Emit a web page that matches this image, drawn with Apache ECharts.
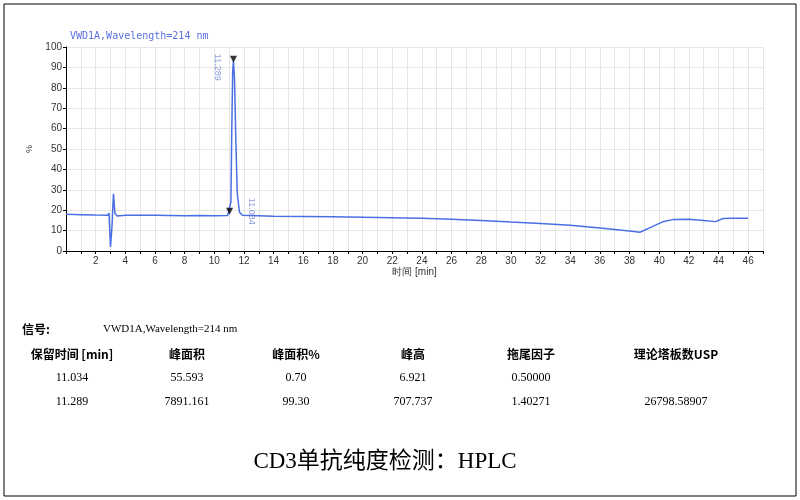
<!DOCTYPE html>
<html><head><meta charset="utf-8">
<script src="https://cdn.jsdelivr.net/npm/echarts@6/dist/echarts.min.js"></script>
<style>body{margin:0;background:#fff}#c{width:800px;height:500px}</style>
</head><body><div id="c"></div>
<script>
// 色谱曲线数据 [时间 min, 信号 %]
const trace = [
  [0, 18.0], [1, 17.8], [2, 17.6], [2.8, 17.5], [2.9, 18.5], [3.0, 2.0], [3.1, 12],
  [3.2, 28.0], [3.3, 18.5], [3.45, 17.2], [4, 17.5], [6, 17.5], [8, 17.3], [9, 17.4],
  [10, 17.3], [10.9, 17.4], [11.03, 17.9], [11.12, 24], [11.18, 60], [11.24, 88], [11.29, 93.0],
  [11.36, 85], [11.45, 55], [11.55, 28], [11.7, 19], [11.9, 17.5], [12, 17.3], [14, 17.0],
  [18, 16.8], [20, 16.6], [24, 16.0], [26, 15.6], [28, 15.0], [30, 14.2], [32, 13.5],
  [34, 12.6], [36, 11.3], [38, 9.8], [38.7, 9.2], [39.5, 11.8], [40.3, 14.5],
  [41, 15.5], [42, 15.6], [43, 15.0], [43.8, 14.4], [44.3, 15.9], [45, 16.0], [46, 16.1]
];
const peakTimes = [11.034, 11.289];
const peakMarks = [19.5, 94];
const peakNames = ['11.034', '11.289'];
const xTicks = [2, 4, 6, 8, 10, 12, 14, 16, 18, 20, 22, 24, 26, 28, 30, 32, 34, 36, 38, 40, 42, 44, 46];
const headers = ['保留时间 [min]', '峰面积', '峰面积%', '峰高', '拖尾因子', '理论塔板数USP'];
const row1 = ['11.034', '55.593', '0.70', '6.921', '0.50000', ''];
const row2 = ['11.289', '7891.161', '99.30', '707.737', '1.40271', '26798.58907'];

const colX = [72, 187, 296, 413, 531, 676];
const graphics = [
  { type: 'rect', shape: { x: 4, y: 4, width: 792, height: 492 }, style: { fill: 'none', stroke: '#000', lineWidth: 1 } },
  { type: 'text', left: 70, top: 31, style: { text: 'VWD1A,Wavelength=214 nm', fill: '#5a6fe0', font: '10px "DejaVu Sans Mono"' } },
  { type: 'text', left: 22, top: 323, style: { text: '信号:', fill: '#000', font: 'bold 12px "Noto Sans CJK SC"' } },
  { type: 'text', left: 103, top: 324, style: { text: 'VWD1A,Wavelength=214 nm', fill: '#000', font: '11px "Liberation Serif"' } },
  { type: 'text', x: 385, y: 462, style: { text: 'CD3单抗纯度检测：HPLC', fill: '#000', font: '23px "Liberation Serif", "Noto Sans CJK SC"', align: 'center', verticalAlign: 'middle' } }
];
[headers, row1, row2].forEach(function (row, r) {
  row.forEach(function (t, i) {
    graphics.push({ type: 'text', x: colX[i], y: 354 + r * 24, style: {
      text: t, fill: '#000', align: 'center', verticalAlign: 'middle',
      font: r === 0 ? 'bold 12px "Noto Sans CJK SC"' : '12px "Liberation Serif"' } });
  });
});

// 峰标记：11.034 的标签在标记上方，11.289 的标签在右下方
const labelOffsets = [[0, -22], [8, 16]];
const peakData = peakTimes.map((t, i) => ({
  value: [t, peakMarks[i]],
  label: { show: true, formatter: peakNames[i], rotate: -90, position: 'inside',
    offset: labelOffsets[i], color: '#6b82d6', fontSize: 9 }
}));

const chart = echarts.init(document.getElementById('c'));
chart.setOption({
  animation: false,
  grid: { left: 66, right: 37, top: 47, bottom: 249 },
  xAxis: {
    type: 'value', min: 0, max: 47, interval: 1,
    name: '时间 [min]', nameLocation: 'middle', nameGap: 14,
    nameTextStyle: { fontSize: 10, color: '#333' },
    axisLine: { lineStyle: { color: '#000' } },
    axisTick: { length: 3, lineStyle: { color: '#000' }, interval: (i, v) => v % 2 === 0 },
    axisLabel: { fontSize: 10, color: '#333', margin: 5, formatter: v => xTicks.includes(v) ? v : '' },
    splitLine: { show: true, lineStyle: { color: '#e6e6e6' }, interval: (i, v) => v % 2 === 0 }
  },
  yAxis: {
    type: 'value', min: 0, max: 100, interval: 10,
    name: '%', nameLocation: 'middle', nameGap: 32, nameRotate: 90,
    nameTextStyle: { fontSize: 9, color: '#333' },
    axisLine: { show: true, lineStyle: { color: '#000' } },
    axisTick: { show: true, length: 3, lineStyle: { color: '#000' } },
    axisLabel: { fontSize: 10, color: '#333', margin: 4 },
    splitLine: { show: true, lineStyle: { color: '#e6e6e6' } }
  },
  series: [
    { type: 'line', data: trace, showSymbol: false, lineStyle: { color: '#4a6fe3', width: 1.5 }, z: 3 },
    { type: 'scatter', data: peakData, symbol: 'triangle', symbolRotate: 180, symbolSize: 7,
      itemStyle: { color: '#000' }, z: 4 }
  ],
  graphic: graphics
});
</script></body></html>
